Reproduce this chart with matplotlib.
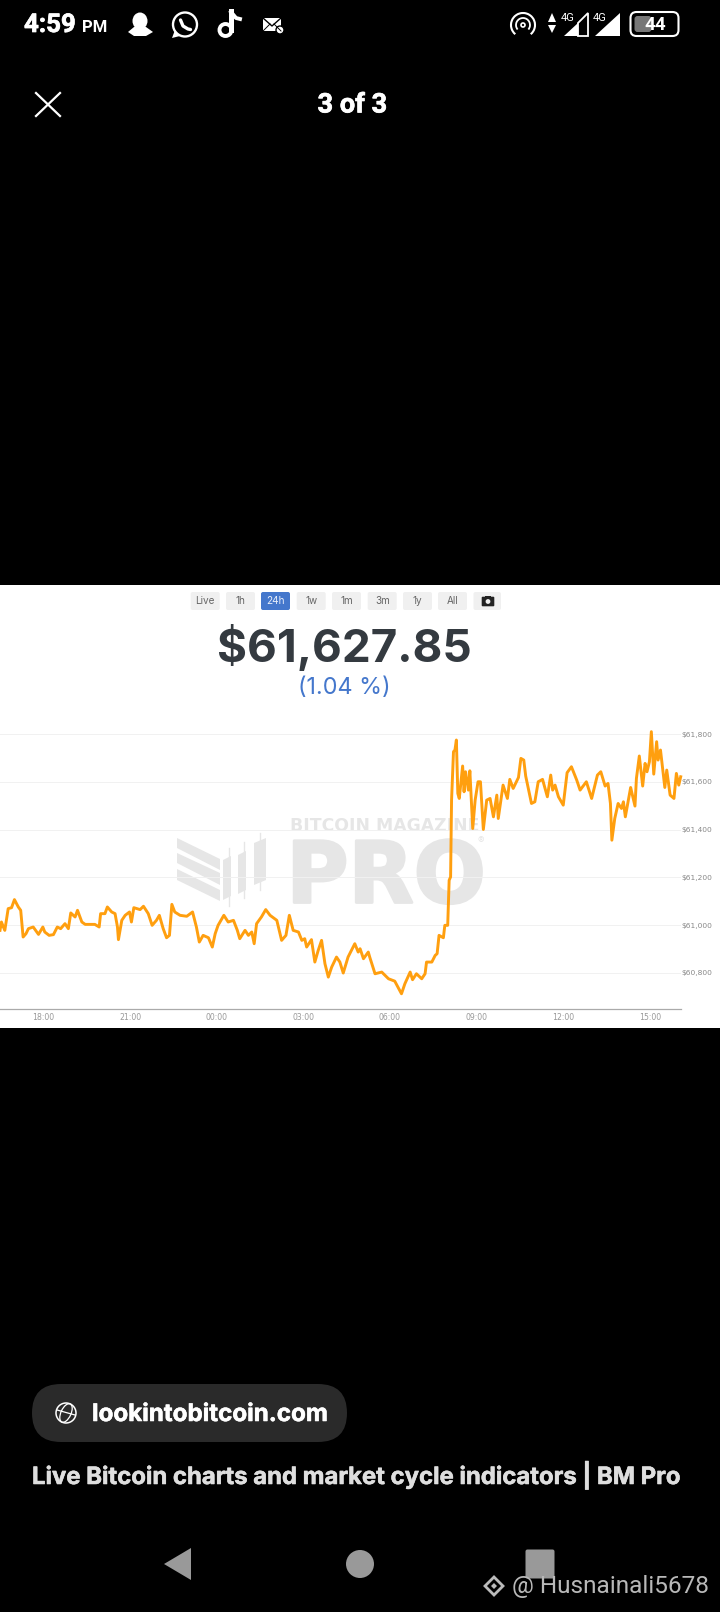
import matplotlib
matplotlib.use("Agg")
import matplotlib.pyplot as plt
import matplotlib.patheffects as pe
from matplotlib.patches import Rectangle, FancyBboxPatch, Polygon, Circle, Ellipse, Arc

# ---------- data ----------
minutes_since_1630 = [
    0, 3, 7, 10, 17, 24, 30, 38, 43, 48, 54, 59, 69, 80, 89, 93, 102, 111, 119, 126,
    135, 142, 147, 156, 161, 170, 177, 187, 197, 206, 209, 218, 223, 232, 239, 244, 246, 253, 260, 269,
    273, 278, 291, 298, 308, 316, 325, 331, 339, 346, 352, 357, 363, 374, 388, 400, 408, 414, 422, 433,
    441, 447, 453, 465, 474, 485, 493, 498, 509, 516, 523, 528, 533, 543, 552, 561, 575, 585, 594, 601,
    609, 620, 627, 633, 637, 647, 654, 661, 668, 675, 682, 689, 699, 706, 713, 723, 737, 744,
    748, 755, 765, 768, 779, 793, 800, 807, 820, 834, 841, 852, 857, 865, 876, 883, 886, 897, 904, 908,
    912, 921, 924, 930, 933, 936, 938, 942, 945, 948, 951, 954, 961, 964, 967, 973, 976, 982, 987, 993,
    998, 1004, 1011, 1018, 1025, 1032, 1035, 1045, 1054, 1059, 1066, 1077, 1082, 1088, 1092, 1104, 1111, 1118, 1127, 1137,
    1144, 1148, 1153, 1160, 1170, 1178, 1187, 1198, 1205, 1218, 1229, 1241, 1248, 1257, 1263, 1268, 1271, 1277, 1284, 1291,
    1295, 1299, 1310, 1319, 1322, 1328, 1335, 1340, 1344, 1349, 1353, 1358, 1364, 1367, 1372, 1381, 1385, 1392, 1400, 1405,
    1410, 1414,
]
prices = [
    60978, 61013, 60992, 60978, 61069, 61073, 61107, 61076, 61062, 60950, 60964, 60985, 60992, 60961, 60992, 60971, 60957, 60960, 60992, 60985,
    61006, 60985, 61051, 61034, 61062, 61013, 61003, 61003, 61003, 60992, 61048, 61048, 61076, 61055, 61048, 60992, 60939, 61020, 61041, 61055,
    61013, 61073, 61065, 61079, 61048, 60999, 61020, 61041, 60985, 60947, 60957, 61087, 61055, 61041, 61037, 61055, 60992, 60929, 60957, 60947,
    60908, 60964, 60999, 61041, 61013, 61020, 60978, 60943, 60978, 60957, 60971, 60922, 61006, 61034, 61065, 61041, 61020, 60936, 60957, 61041,
    60978, 60971, 60936, 60943, 60908, 60939, 60845, 60894, 60936, 60838, 60782, 60824, 60866, 60845, 60799, 60866, 60922, 60887,
    60901, 60859, 60887, 60866, 60796, 60803, 60789, 60775, 60765, 60712, 60754, 60803, 60771, 60796, 60775, 60796, 60845, 60845, 60873, 60880,
    60957, 60947, 60999, 60999, 61188, 61202, 61524, 61727, 61734, 61776, 61552, 61531, 61667, 61559, 61643, 61566, 61647, 61405, 61524, 61601,
    61601, 61401, 61524, 61531, 61454, 61545, 61447, 61587, 61531, 61611, 61573, 61619, 61699, 61692, 61625, 61510, 61517, 61601, 61611, 61538,
    61629, 61566, 61587, 61538, 61503, 61639, 61664, 61608, 61566, 61601, 61531, 61629, 61643, 61583, 61594, 61510, 61356, 61447, 61510, 61489,
    61517, 61454, 61577, 61499, 61615, 61709, 61583, 61678, 61643, 61685, 61811, 61633, 61769, 61692, 61734, 61577, 61650, 61545, 61531, 61636,
    61587, 61622,
]
xtick_minutes = [90, 270, 450, 630, 810, 990, 1170, 1350]
xtick_labels = ["18:00", "21:00", "00:00", "03:00", "06:00", "09:00", "12:00", "15:00"]
ytick_values = [60800, 61000, 61200, 61400, 61600, 61800]
ytick_labels = ["$60,800", "$61,000", "$61,200", "$61,400", "$61,600", "$61,800"]
range_buttons = ["Live", "1h", "24h", "1w", "1m", "3m", "1y", "All"]

W, H = 720, 1612
plt.rcParams["font.family"] = ["Inter", "Roboto", "DejaVu Sans"]
fig = plt.figure(figsize=(W / 100, H / 100), dpi=100, facecolor="black")

ov = fig.add_axes([0, 0, 1, 1], zorder=1)
ov.set_xlim(0, W)
ov.set_ylim(H, 0)
ov.axis("off")


def T(x, y, s, size, color="white", weight="normal", ha="center", family=None, thick=0, **kw):
    t = ov.text(x, y, s, fontsize=size, color=color, fontweight=weight, ha=ha, va="center",
                family=family if family else ["Inter", "Roboto", "DejaVu Sans"], **kw)
    if thick:
        t.set_path_effects([pe.withStroke(linewidth=thick, foreground=color)])
    return t


ov.add_patch(Rectangle((0, 585), W, 443, fc="white", ec="none"))

# watermark
wm = "#e6e6e6"
ov.add_patch(Polygon([(177, 838), (220, 859), (220, 870), (177, 848)], fc=wm, ec="none"))
ov.add_patch(Polygon([(177, 853), (220, 873), (220, 885), (177, 863)], fc=wm, ec="none"))
ov.add_patch(Polygon([(177, 869), (220, 890), (220, 901), (177, 880)], fc=wm, ec="none"))
ov.add_patch(Polygon([(223, 860), (231, 856), (231, 896), (223, 900)], fc=wm, ec="none"))
ov.add_patch(Polygon([(238, 855), (246, 851), (246, 890), (238, 894)], fc=wm, ec="none"))
ov.add_patch(Polygon([(254, 843), (266, 838), (266, 880), (254, 885)], fc=wm, ec="none"))
ov.plot([229, 229], [848, 906], color=wm, lw=1)
ov.plot([244, 244], [842, 898], color=wm, lw=1)
ov.plot([260, 260], [833, 890], color=wm, lw=1)
T(385, 826, "BITCOIN MAGAZINE", 12.4, wm, "bold", family=["DejaVu Sans"])
T(386, 879, "PRO", 61, wm, "bold", family=["DejaVu Sans"], thick=2)
T(481, 841, "®", 7, wm)

# range buttons
btn_x = [190.7, 226, 261, 296.7, 332, 367.7, 403, 438]
for bx, label in zip(btn_x, range_buttons):
    active = label == "24h"
    ov.add_patch(FancyBboxPatch((bx + 1, 593), 27, 16, boxstyle="round,pad=1,rounding_size=2",
                                fc="#4477cc" if active else "#f0f0f0", ec="none"))
    T(bx + 14.6, 601.5, label, 7.2, "#e8eefa" if active else "#666666")
ov.add_patch(FancyBboxPatch((474.5, 593), 25.5, 16, boxstyle="round,pad=1,rounding_size=2", fc="#f0f0f0", ec="none"))
ov.add_patch(FancyBboxPatch((482, 597), 12, 9, boxstyle="round,pad=0.3,rounding_size=1", fc="#222222", ec="none"))
ov.add_patch(Rectangle((485, 595.5), 6, 2, fc="#222222", ec="none"))
ov.add_patch(Circle((488, 601.5), 2.4, fc="#f0f0f0", ec="none"))

# price headline
T(344.5, 647.5, "$61,627.85", 33, "#343a40", "bold")
T(344.5, 688, "(1.04 %)", 16.8, "#4477cc")

# status bar
T(24, 25, "4:59", 18.6, "white", "bold", ha="left", family=["Roboto"], thick=0.5)
T(82, 27, "PM", 12, "white", "bold", ha="left", family=["Roboto"])
ov.add_patch(Ellipse((140, 21), 15, 17, fc="white", ec="none"))
ov.add_patch(Polygon([(128, 32), (134, 27), (146, 27), (153, 32), (146, 36), (134, 36)], fc="white", ec="none"))
ov.add_patch(Circle((185, 24.5), 12, fc="none", ec="white", lw=1.7))
ov.add_patch(Polygon([(172, 38), (175, 30), (180, 36)], fc="white", ec="none"))
ov.plot([180.5, 183, 188, 190.5], [20, 26, 29, 29.5], color="white", lw=2.4, solid_capstyle="round")
ov.plot([231, 231], [11, 30], color="white", lw=3.6)
ov.add_patch(Circle((225.5, 30), 6, fc="none", ec="white", lw=2.8))
ov.plot([231, 236, 240], [12, 18, 19], color="white", lw=2.8)
ov.add_patch(Rectangle((263, 18), 18, 13, fc="white", ec="none"))
ov.plot([263, 272, 281], [18, 26, 18], color="black", lw=1)
ov.plot([263, 270], [31, 24], color="black", lw=0.7)
ov.plot([281, 274], [31, 24], color="black", lw=0.7)
ov.add_patch(Circle((280, 30), 4, fc="white", ec="black", lw=1))
# radar
ov.add_patch(Circle((523, 25), 2, fc="none", ec="white", lw=1.2))
ov.add_patch(Arc((523, 25), 14, 14, theta1=140, theta2=400, color="white", lw=1.3))
ov.add_patch(Arc((523, 25), 24, 24, theta1=130, theta2=410, color="white", lw=1.5))
# arrows
ov.add_patch(Polygon([(548, 22), (556, 22), (552, 13)], fc="white", ec="none"))
ov.add_patch(Polygon([(548, 25), (556, 25), (552, 33)], fc="white", ec="none"))
# signals
T(568, 18, "4G", 8, "white", family=["Roboto"])
ov.add_patch(Polygon([(564, 36), (578, 23), (578, 36)], fc="white", ec="none"))
ov.add_patch(Polygon([(578, 36), (588, 36), (588, 13), (578, 23)], fc="none", ec="white", lw=1.3))
T(600, 18, "4G", 8, "white", family=["Roboto"])
ov.add_patch(Polygon([(595, 36), (620, 36), (620, 13)], fc="white", ec="none"))
# battery
ov.add_patch(FancyBboxPatch((631.5, 13), 46, 22, boxstyle="round,pad=1,rounding_size=6", fc="black", ec="white", lw=1.5))
ov.add_patch(FancyBboxPatch((634.5, 16), 17, 16, boxstyle="round,pad=0,rounding_size=3", fc="#777777", ec="none"))
T(655, 25, "44", 13.5, "white", "bold", family=["Roboto"])

# top bar
ov.plot([36, 60], [93, 116], color="white", lw=1.6)
ov.plot([60, 36], [93, 116], color="white", lw=1.6)
T(352.5, 105, "3 of 3", 19.5, "white", "bold", family=["Roboto"], thick=0.5)

# link pill
ov.add_patch(FancyBboxPatch((32, 1384), 315, 58, boxstyle="round,pad=0,rounding_size=29", fc="#2a2a2a", ec="none"))
ov.add_patch(Circle((66, 1413), 10, fc="none", ec="white", lw=1.1))
ov.add_patch(Ellipse((66, 1413), 10, 20, fc="none", ec="white", lw=0.9, angle=25))
ov.plot([57, 75], [1410, 1415], color="white", lw=0.9)
T(92, 1415, "lookintobitcoin.com", 17.4, "white", "bold", ha="left", thick=0.4)
T(32, 1476, "Live Bitcoin charts and market cycle indicators | BM Pro", 17.2, "#dedede", "bold", ha="left", thick=0.4)

# nav bar
nav = "#999999"
ov.add_patch(Polygon([(164, 1564), (191, 1548), (191, 1580)], fc=nav, ec="none"))
ov.add_patch(Circle((360, 1564), 14, fc=nav, ec="none"))
ov.add_patch(FancyBboxPatch((526, 1550), 28, 28, boxstyle="round,pad=0.5,rounding_size=2", fc=nav, ec="none"))
ov.add_patch(Polygon([(494, 1577), (503, 1586), (494, 1595), (485, 1586)], fc="none", ec="#bbbbbb", lw=2))
ov.add_patch(Polygon([(494, 1583), (497, 1586), (494, 1589), (491, 1586)], fc="#bbbbbb", ec="none"))
T(512, 1586, "@ Husnainali5678", 17.6, "#b8b8b8", ha="left", family=["Roboto", "DejaVu Sans"])

# ---------- chart ----------
ax_left, ax_right = 0, 680.9
ax_top, ax_bottom = 725, 1009.3
ax = fig.add_axes([ax_left / W, 1 - ax_bottom / H, (ax_right - ax_left) / W, (ax_bottom - ax_top) / H], zorder=2)
ax.patch.set_alpha(0)
ax.set_xlim(0, 1414.4)
ax.set_ylim(61800 - (1009.3 - 734.3) / 0.2385, 61800 + (734.3 - 725) / 0.2385)
for s in ["top", "left", "right"]:
    ax.spines[s].set_visible(False)
ax.spines["bottom"].set_color("#aaaaaa")
ax.spines["bottom"].set_linewidth(0.9)
ax.yaxis.tick_right()
ax.set_xticks(xtick_minutes, xtick_labels)
ax.set_yticks(ytick_values, ytick_labels)
ax.tick_params(axis="x", length=0, pad=2.5, labelsize=5.6, labelcolor="#999999")
ax.tick_params(axis="y", length=0, pad=0.2, labelsize=5.4, labelcolor="#888888")
for lab in ax.get_xticklabels() + ax.get_yticklabels():
    lab.set_family("DejaVu Sans")
ax.grid(axis="y", color="#f1f1f1", lw=0.7)
ax.set_axisbelow(True)
ax.plot(minutes_since_1630, prices, color="#ff9f0f", lw=2.1, solid_joinstyle="round", clip_on=False)

fig.savefig("out.png", dpi=100, facecolor="black")
